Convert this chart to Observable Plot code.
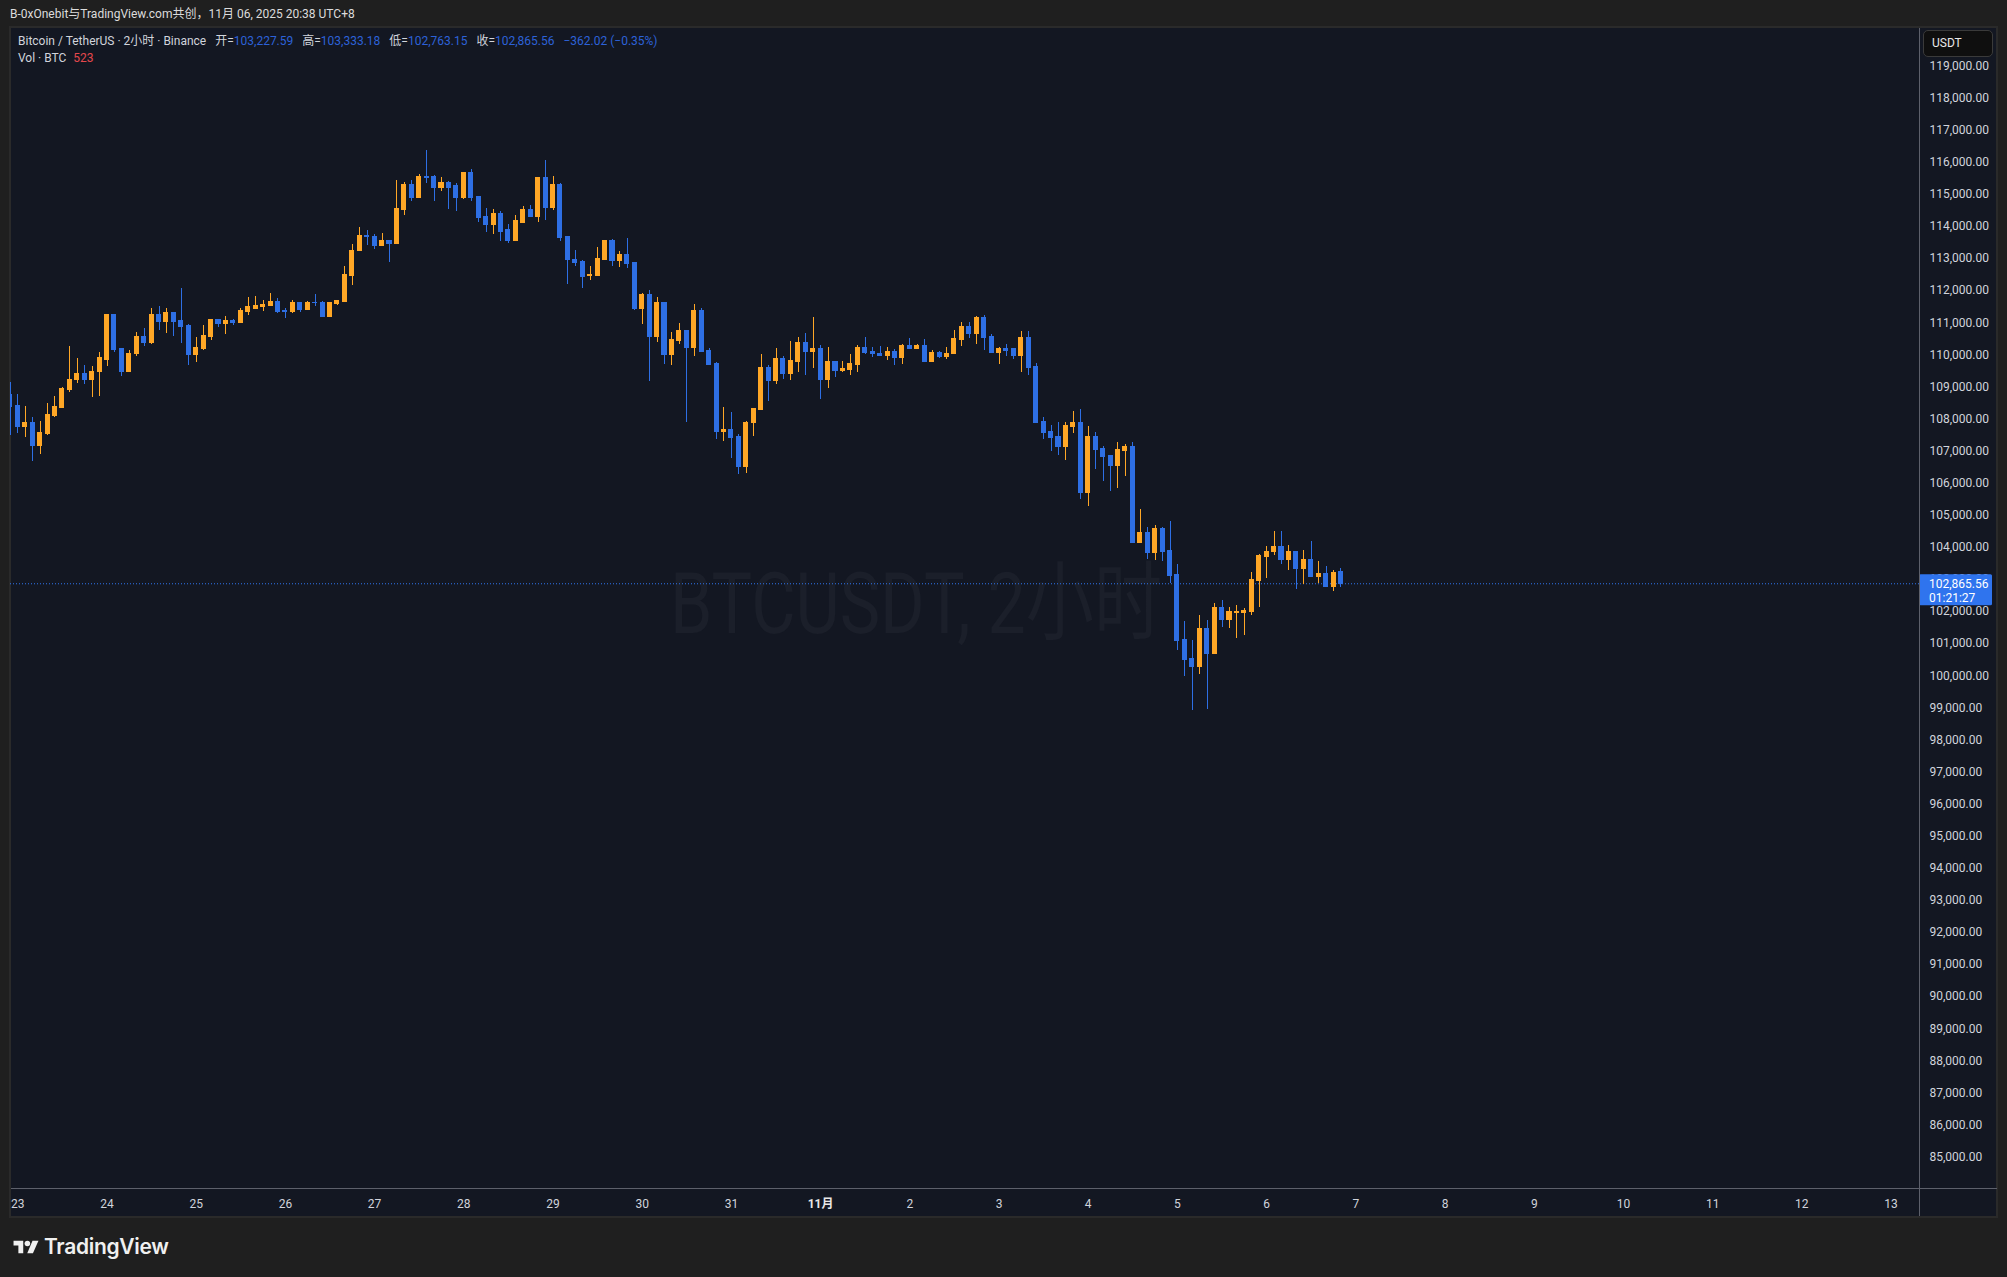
<!DOCTYPE html>
<html><head><meta charset="utf-8">
<script src="https://cdn.jsdelivr.net/npm/d3@7"></script>
<script src="https://cdn.jsdelivr.net/npm/@observablehq/plot@0.6"></script>
<style>
html,body{margin:0;padding:0;background:#1f1f1f;width:2007px;height:1277px;overflow:hidden;font-family:Roboto,"Noto Sans CJK SC",sans-serif;}
#title{position:absolute;left:10px;top:6px;font-size:12px;line-height:16px;color:#dcdcdc;white-space:nowrap;}
#panel{position:absolute;left:9px;top:26px;width:1989px;height:1192px;background:#131722;box-sizing:border-box;border:2px solid #2a2a2a;}
#wm{position:absolute;left:0;top:0;}
#chart{position:absolute;left:10px;top:27px;}
.sep{position:absolute;background:#5d606b;}
#legend{position:absolute;left:18px;top:33px;font-size:12px;line-height:16.6px;color:#d1d4dc;white-space:nowrap;}
#legend .v{color:#2d62d8;}
#legend .r{color:#e5484d;}
#legend .g{margin-left:6px;}
#usdt{position:absolute;left:1923px;top:30px;width:70px;height:27px;box-sizing:border-box;background:#0f0f0f;border:1px solid #3a3a3a;border-radius:5px;color:#e8e8e8;font-size:12px;line-height:25px;padding-left:8px;}
#footer{position:absolute;left:13px;top:1234px;display:flex;align-items:center;color:#f0f0f0;font-family:Inter,Lato,sans-serif;font-weight:600;font-size:21px;letter-spacing:-0.3px;}
#footer svg{margin-right:5px;}
</style></head>
<body>
<div id="title">B-0xOnebit与TradingView.com共创，11月 06, 2025 20:38 UTC+8</div>
<div id="panel"></div>
<svg id="wm" width="2007" height="1277"><text x="670" y="633" font-family="Roboto, 'Noto Sans CJK SC', sans-serif" font-size="86" fill="#1b1f2a" textLength="492" lengthAdjust="spacingAndGlyphs">BTCUSDT, 2小时</text></svg>
<div id="chart"></div>
<div class="sep" style="left:11px;top:1188px;width:1986px;height:1px;"></div>
<div class="sep" style="left:1919px;top:28px;width:1px;height:1188px;"></div>
<div id="legend">
<div>Bitcoin / TetherUS · 2小时 · Binance <span class="g">开=</span><span class="v">103,227.59</span> <span class="g">高=</span><span class="v">103,333.18</span> <span class="g">低=</span><span class="v">102,763.15</span> <span class="g">收=</span><span class="v">102,865.56</span> <span class="v g">−362.02 (−0.35%)</span></div>
<div>Vol · BTC <span class="r" style="margin-left:4px">523</span></div>
</div>
<div id="usdt">USDT</div>
<div id="footer"><svg width="26" height="18" viewBox="0 0 36 26"><path d="M14 22H7V11H0V4h14v18z" fill="#f0f0f0"/><circle cx="20" cy="8" r="4" fill="#f0f0f0"/><path d="M28 22h-8.2l7.6-18H36l-8 18z" fill="#f0f0f0"/></svg>TradingView</div>
<script>
// 2-hour candles; index 0 = 2025-10-23 00:00 (UTC+8), -1 = 10-22 22:00
const candleIndex = d3.range(-1, 179);
const open = [108760,108390,107740,107860,107150,107520,108090,108340,108890,109200,109390,109200,109450,109850,111230,110170,109480,110010,110570,110380,111230,111010,111290,111040,110910,109980,110170,110570,111070,110950,111040,110980,111320,111440,111480,111510,111660,111350,111320,111600,111410,111630,111630,111190,111570,111660,112470,113220,113690,113660,113380,113560,113440,114500,115280,114900,115530,115530,115210,115340,115250,114900,115680,114930,114280,114060,114400,113880,113560,114120,114500,114310,115500,114590,115280,113660,112970,112880,112470,112470,112970,113560,112910,113100,112850,111440,111850,110570,111600,109980,110420,110730,110200,111350,110130,109700,107580,107670,107450,106490,107860,108270,109600,109170,109880,109390,109790,110380,110100,110170,109230,109790,109510,109540,109670,110200,110100,110040,109950,110100,109890,110290,110170,110290,109790,110070,109920,110010,110450,110880,110660,111160,110540,110070,110170,110170,109950,110510,109630,107920,107580,107450,107140,107740,107890,105680,107450,107050,106860,106520,106990,107140,104150,104460,103810,104560,103900,103150,101100,100510,100260,101470,100690,102100,101750,101940,101940,102000,102940,103690,103840,104000,103620,103870,103310,103620,103090,103160,102750,103227.59];
const high = [109150,108760,108390,108050,107920,108480,108700,108980,110260,109890,109670,109640,110070,111260,111260,110190,110140,110700,110820,111440,111510,111440,111300,112070,110930,110540,110910,111080,111100,111190,111100,111440,111790,111820,111690,111910,111760,111440,111690,111630,111660,111880,111660,111630,111700,112750,113440,113970,113880,113750,113780,113570,115430,115370,115430,115620,116370,115590,115530,115400,115340,115690,115780,114940,114560,114530,114470,114060,114340,114620,114650,115500,116060,115560,115340,113690,113250,112940,112750,113350,113570,113590,113220,113630,112880,111910,112000,111790,111600,110700,110980,110730,111570,111440,110200,109760,108360,108200,107520,107920,108300,110010,109670,110200,109950,110410,110540,110660,111160,110290,110230,109800,109790,110010,110290,110540,110230,110260,110230,110170,110320,110510,110320,110480,110130,110100,110230,110760,111010,111010,111190,111230,110630,110230,110320,110200,110730,110730,109730,108050,107800,107890,107890,108230,108300,107770,107580,107140,106870,107270,107210,107270,105180,104620,104680,104620,104810,103470,101690,101100,101880,101720,102250,102350,102130,102190,102100,103220,103780,104030,104500,104500,104060,103880,103900,104180,103560,103400,103280,103333.18];
const low = [107490,107560,107430,106660,106900,107490,108050,108330,108840,109120,109090,108670,108700,109640,110070,109320,109470,109950,110260,110320,110760,110660,110570,110350,109670,109760,110140,110450,110850,110630,110910,110970,111230,111440,111350,111500,111290,111130,111290,111320,111380,111510,111190,111190,111540,111660,112160,113215,113410,113280,113370,112880,113430,114340,114780,114900,115340,114780,115090,114530,114470,114840,114780,114120,113810,113750,113530,113470,113560,114090,114280,114120,114190,114500,113530,112190,112750,112070,112320,112470,112940,112750,112720,112690,111380,110950,109170,110380,109700,109670,110320,107890,109950,110100,109660,107360,107300,106770,106270,106300,107450,108260,108540,109070,109230,109200,109450,109350,109570,108610,108950,109290,109450,109350,109450,110010,109920,109940,109820,109670,109700,110160,110160,109790,109790,109890,109850,110005,110260,110510,110320,110130,110070,109700,109950,109850,109450,109350,107890,107360,106990,106860,106710,107550,105490,105270,106430,106050,105740,105840,106210,104150,104150,103620,103590,103560,102870,100790,99980,98920,100040,98950,100690,101500,101470,101160,101250,101880,102130,103030,103750,103470,103280,102690,102840,103060,102870,102745,102620,102763.15];
const close = [108370,107740,107860,107150,107550,108110,108360,108920,109230,109390,109200,109480,109890,111230,110140,109480,110040,110570,110380,111230,111010,111290,111010,110880,109980,110200,110600,111070,110950,111040,110980,111350,111480,111510,111540,111660,111320,111320,111600,111410,111630,111600,111190,111600,111690,112500,113250,113690,113660,113380,113560,113440,114530,115280,114900,115530,115500,115210,115340,115210,114900,115680,114900,114250,114060,114400,113840,113560,114160,114500,114310,115500,114590,115280,113630,112940,112850,112440,112500,113000,113560,112910,113100,112820,111440,111850,110570,111600,109980,110450,110730,110200,111350,110100,109670,107580,107670,107420,106490,107890,108300,109600,109170,109880,109390,109820,110380,110100,110170,109230,109790,109510,109570,109700,110200,110070,110010,109950,110100,109890,110290,110170,110290,109790,110070,109920,110040,110480,110880,110660,111160,110510,110070,110170,110130,109950,110510,109600,107890,107550,107420,107140,107770,107890,105680,107450,107020,106830,106520,107020,107140,104150,104460,103810,104560,103870,103120,101070,100480,100260,101470,100690,102100,101750,101970,101970,102030,102970,103720,103870,104000,103620,103870,103310,103620,103090,103160,102750,103190,102865.56];

const dayTicks = d3.range(0, 253, 12);
const dayLabels = ["23","24","25","26","27","28","29","30","31","11月","2","3","4","5","6","7","8","9","10","11","12","13"];
const priceTicks = d3.range(85000, 119001, 1000);
const lastClose = close[close.length - 1];
const countdown = "01:21:27";

const UP = "#ffa726", DOWN = "#2e6fe4", LABEL = "#2f74ee";
const candles = candleIndex.map((i, k) => ({i, o: open[k], h: high[k], l: low[k], c: close[k]}));
const col = d => d.c >= d.o ? UP : DOWN;
const fmt = d3.format(",.2f");

function lastPriceLabel(...args) {
  const scales = args.find(a => a && typeof a.y === "function");
  const dims = args.find(a => a && typeof a.marginRight === "number" && typeof a.width === "number");
  if (!scales || !dims) return null;
  const y = scales.y(lastClose);
  const x0 = dims.width - dims.marginRight;
  const g = d3.create("svg:g").attr("text-anchor", "start").attr("font-size", 12);
  g.append("rect").attr("x", x0 - 1).attr("y", y - 9).attr("width", 73).attr("height", 31).attr("rx", 1.5).attr("fill", LABEL);
  g.append("text").attr("x", x0 + 9).attr("y", y).attr("dy", "0.36em").attr("text-anchor", "start").attr("fill", "#ffffff").text(fmt(lastClose));
  g.append("text").attr("x", x0 + 9).attr("y", y + 14).attr("dy", "0.36em").attr("text-anchor", "start").attr("fill", "#ffffff").text(countdown);
  return g.node();
}

const chart = Plot.plot({
  width: 1987,
  height: 1189,
  marginLeft: 0,
  marginRight: 77,
  marginTop: 0,
  marginBottom: 27,
  style: {background: "transparent", color: "#d1d4dc", fontFamily: "Roboto, 'Noto Sans CJK SC', sans-serif", fontSize: "12px", overflow: "visible"},
  x: {domain: [-0.982, 255.96]},
  y: {domain: [83989, 120200]},
  color: {type: "identity"},
  marks: [
    Plot.ruleY([lastClose], {stroke: LABEL, strokeWidth: 1, strokeDasharray: "1,2"}),
    Plot.ruleX(candles, {x: "i", y1: "l", y2: "h", stroke: col, strokeWidth: 1, shapeRendering: "crispEdges", clip: true}),
    Plot.rect(candles, {x1: d => d.i - 0.34, x2: d => d.i + 0.34, y1: "o", y2: "c", fill: col, insetTop: -0.5, insetBottom: -0.5, shapeRendering: "crispEdges", clip: true}),
    Plot.axisY({anchor: "right", ticks: priceTicks, tickFormat: fmt, tickSize: 0, tickPadding: 9, fontSize: 12, fill: "#d1d4dc", label: null}),
    Plot.axisX({ticks: dayTicks, tickFormat: d => dayLabels[dayTicks.indexOf(d)], tickSize: 0, tickPadding: 10, fontSize: 12, fill: "#d1d4dc", label: null}),
    lastPriceLabel
  ]
});
d3.select(chart).selectAll("text").filter(function() { return this.textContent === "11月"; }).attr("font-weight", "bold").attr("fill", "#e8e8e8");
document.getElementById("chart").appendChild(chart);
</script>
</body></html>
